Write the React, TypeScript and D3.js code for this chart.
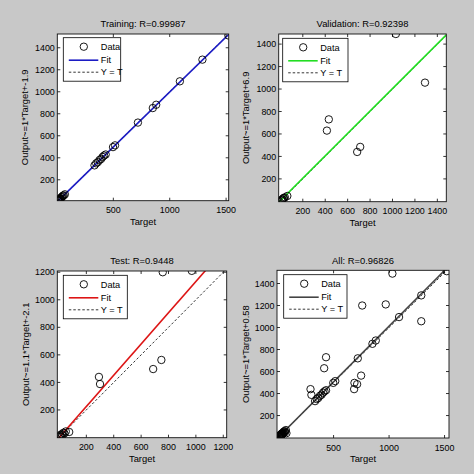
import React from "react";
import * as d3 from "d3";

// ---------- data ----------
const trainTarget = [10, 12, 15, 18, 20, 24, 28, 30, 35, 40, 46, 52, 60, 70, 333, 348, 362, 378, 392, 405, 418, 432, 497, 515, 718, 850, 880, 1090, 1290, 1520];
const trainOutput = [12, 14, 10, 20, 16, 26, 24, 33, 30, 42, 44, 55, 58, 68, 331, 350, 360, 380, 390, 408, 420, 430, 497, 513, 720, 852, 882, 1095, 1292, 1512];

const valTarget = [8, 12, 16, 20, 26, 32, 40, 62, 415, 432, 685, 712, 1030, 1290];
const valOutput = [10, 6, 18, 15, 28, 30, 36, 48, 630, 730, 440, 485, 1490, 1057];

const testTarget = [5, 10, 15, 20, 26, 32, 40, 50, 75, 292, 300, 688, 748, 758, 970];
const testOutput = [8, 18, 6, 24, 16, 34, 30, 44, 40, 440, 388, 497, 563, 1200, 1210];

const allTarget = [...trainTarget, ...valTarget, ...testTarget];
const allOutput = [...trainOutput, ...valOutput, ...testOutput];

const titles = ["Training: R=0.99987", "Validation: R=0.92398", "Test: R=0.9448", "All: R=0.96826"];
const yLabels = ["Output~=1*Target+-1.9", "Output~=1*Target+6.9", "Output~=1.1*Target+-2.1", "Output~=1*Target+0.58"];
const fitSlopes = [1.0, 0.997, 1.135, 1.012];
const fitIntercepts = [-1.9, 6.9, -2.1, 0.58];
const xTickSets = [[500, 1000, 1500], [200, 400, 600, 800, 1000, 1200, 1400], [200, 400, 600, 800, 1000, 1200], [500, 1000, 1500]];
const yTickSets = [[200, 400, 600, 800, 1000, 1200, 1400], [200, 400, 600, 800, 1000, 1200, 1400], [200, 400, 600, 800, 1000, 1200], [200, 400, 600, 800, 1000, 1200, 1400]];
const xLimits = [[3, 1523], [-15, 1480], [-12, 1225], [-10, 1540]];
const yLimits = [[10, 1525], [-3, 1490], [-1.5, 1209], [-4, 1520]];
const legendLabels = ["Data", "Fit", "Y = T"];

// ---------- layout / style ----------
const fitColors = ["#1c1cc4", "#22dd22", "#dd1515", "#444444"];
const boxes = [
  { x0: 57.3, x1: 228.7, y0: 34, y1: 200.7, legX: 63.3, legY: 37.7, legW: 57.4, ylabX: 28 },
  { x0: 278.7, x1: 446.3, y0: 34, y1: 201.7, legX: 282.7, legY: 38.3, legW: 65.3, ylabX: 249 },
  { x0: 57.3, x1: 226.7, y0: 271, y1: 437.7, legX: 63.3, legY: 275.3, legW: 64, ylabX: 28.5 },
  { x0: 277, x1: 449, y0: 270.3, y1: 438, legX: 283.7, legY: 274.7, legW: 63.3, ylabX: 248.5 },
];
const FONT = "'Liberation Sans', Arial, Helvetica, sans-serif";

const targets = [trainTarget, valTarget, testTarget, allTarget];
const outputs = [trainOutput, valOutput, testOutput, allOutput];

function Panel({ i }: { i: number }) {
  const b = boxes[i];
  const x = d3.scaleLinear().domain(xLimits[i]).range([b.x0, b.x1]);
  const y = d3.scaleLinear().domain(yLimits[i]).range([b.y1, b.y0]);
  const [xmin, xmax] = xLimits[i];
  const line = d3.line<number>().x((t) => x(t)).y((t) => y(fitSlopes[i] * t + fitIntercepts[i]));
  const idLine = d3.line<number>().x((t) => x(t)).y((t) => y(t));
  const clipId = `clip${i}`;
  const tl = 3;
  const cx = (b.x0 + b.x1) / 2;
  const cy = (b.y0 + b.y1) / 2;
  const rows = [9, 22.5, 34.5];
  return (
    <g>
      <defs>
        <clipPath id={clipId}>
          <rect x={b.x0} y={b.y0} width={b.x1 - b.x0} height={b.y1 - b.y0} />
        </clipPath>
      </defs>
      <rect x={b.x0} y={b.y0} width={b.x1 - b.x0} height={b.y1 - b.y0} fill="#fff" />
      <g clipPath={`url(#${clipId})`}>
        <path d={idLine([xmin, xmax]) || ""} stroke="#000" strokeWidth={0.8} strokeDasharray="2.5,2" fill="none" />
        <path d={line([xmin, xmax]) || ""} stroke={fitColors[i]} strokeWidth={1.6} fill="none" />
        {targets[i].map((t, k) => (
          <circle key={k} cx={x(t)} cy={y(outputs[i][k])} r={3.7} fill="none" stroke="#000" strokeWidth={0.9} />
        ))}
      </g>
      {xTickSets[i].map((t) => (
        <g key={"xt" + t}>
          <line x1={x(t)} x2={x(t)} y1={b.y1} y2={b.y1 - tl} stroke="#000" strokeWidth={0.8} />
          <line x1={x(t)} x2={x(t)} y1={b.y0} y2={b.y0 + tl} stroke="#000" strokeWidth={0.8} />
          <text x={x(t)} y={b.y1 + 12.5} textAnchor="middle" fontSize={8.9} fontFamily={FONT} fill="#000">{t}</text>
        </g>
      ))}
      {yTickSets[i].map((t) => (
        <g key={"yt" + t}>
          <line x1={b.x0} x2={b.x0 + tl} y1={y(t)} y2={y(t)} stroke="#000" strokeWidth={0.8} />
          <line x1={b.x1} x2={b.x1 - tl} y1={y(t)} y2={y(t)} stroke="#000" strokeWidth={0.8} />
          <text x={b.x0 - 2.5} y={y(t)} dy="0.35em" textAnchor="end" fontSize={8.9} fontFamily={FONT} fill="#000">{t}</text>
        </g>
      ))}
      <rect x={b.x0} y={b.y0} width={b.x1 - b.x0} height={b.y1 - b.y0} fill="none" stroke="#111" strokeWidth={0.9} />
      <text x={cx} y={b.y0 - 6.7} textAnchor="middle" fontSize={9.4} fontFamily={FONT} fill="#000">{titles[i]}</text>
      <text x={cx} y={b.y1 + 24} textAnchor="middle" fontSize={9.4} fontFamily={FONT} fill="#000">Target</text>
      <text transform={`translate(${b.ylabX},${cy}) rotate(-90)`} textAnchor="middle" fontSize={9.4} fontFamily={FONT} fill="#000">{yLabels[i]}</text>
      <rect x={b.legX} y={b.legY} width={b.legW} height={43.5} fill="#fff" stroke="#000" strokeWidth={0.8} />
      <circle cx={b.legX + 20.5} cy={b.legY + rows[0]} r={3.7} fill="none" stroke="#000" strokeWidth={0.9} />
      <line x1={b.legX + 5.5} x2={b.legX + 35} y1={b.legY + rows[1]} y2={b.legY + rows[1]} stroke={fitColors[i]} strokeWidth={1.6} />
      <line x1={b.legX + 5.5} x2={b.legX + 35} y1={b.legY + rows[2]} y2={b.legY + rows[2]} stroke="#000" strokeWidth={0.8} strokeDasharray="2.5,2" />
      {legendLabels.map((l, k) => (
        <text key={l} x={b.legX + 37.5} y={b.legY + rows[k]} dy="0.35em" fontSize={9.2} fontFamily={FONT} fill="#000">{l}</text>
      ))}
    </g>
  );
}

export default function App() {
  return (
    <svg width={474} height={474} style={{ position: "absolute", left: 0, top: 0 }}>
      <rect x={0} y={0} width={474} height={474} fill="#c8c8c8" />
      {[0, 1, 2, 3].map((i) => (
        <Panel key={i} i={i} />
      ))}
    </svg>
  );
}
